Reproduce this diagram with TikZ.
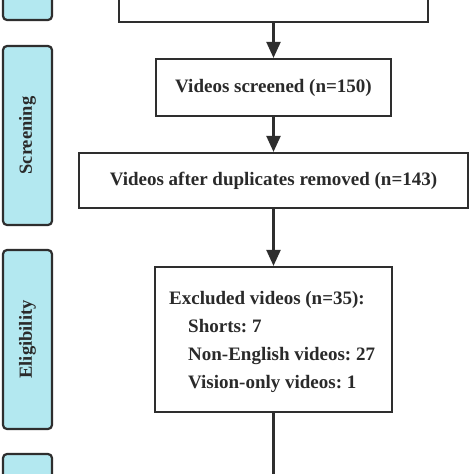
\documentclass[tikz,border=0pt]{standalone}
\usepackage{fontspec}
\setmainfont{Liberation Serif}
\usetikzlibrary{arrows.meta}
\frenchspacing
\definecolor{stagefill}{HTML}{B3E8F0}
\definecolor{linec}{HTML}{2E2E2E}
\definecolor{txtc}{HTML}{2A2A2A}
\tikzset{
  flowbox/.style={draw=linec, line width=2.2pt, fill=white, inner sep=0pt,
    font=\bfseries\fontsize{19}{23}\selectfont, text=txtc},
  stagebox/.style={draw=linec, line width=2.2pt, fill=stagefill, rounded corners=4pt,
    inner sep=0pt, minimum width=49pt},
  stagelabel/.style={rotate=90, font=\bfseries\fontsize{18.5}{22}\selectfont, text=txtc, inner sep=0pt},
  itemtext/.style={anchor=base west, inner sep=0pt, font=\bfseries\fontsize{19}{23}\selectfont, text=txtc},
  flowarrow/.style={draw=linec, line width=2.2pt, -{Triangle[length=16pt,width=14pt]}},
  flowline/.style={draw=linec, line width=2.2pt}
}
\begin{document}
\begin{tikzpicture}[x=1pt,y=-1pt]
\clip (0,0) rectangle (474,474);
\fill[white] (0,0) rectangle (474,474);
% stage boxes
\node[stagebox, minimum height=120pt] (stagetop) at (27.5,-40) {};
\node[stagebox, minimum height=179pt] (screening) at (27.5,135.5) {};
\node[stagelabel] (screeninglbl) at (27.5,135.5) {Screening};
\node[stagebox, minimum height=179pt] (eligibility) at (27.5,339.5) {};
\node[stagelabel] (eligibilitylbl) at (27.5,339.5) {Eligibility};
\node[stagebox, minimum height=120pt] (stagebot) at (27.5,514) {};
% flow boxes
\node[flowbox, minimum width=309pt, minimum height=64pt] (top) at (273.5,-10) {};
\node[flowbox, minimum width=235pt, minimum height=57pt] (screened) at (273.5,87.5) {Videos screened (n=150)};
\node[flowbox, minimum width=389pt, minimum height=55pt] (dup) at (273.5,180.5) {Videos after duplicates removed (n=143)};
\node[flowbox, minimum width=237pt, minimum height=145pt] (excl) at (273.5,339.5) {};
\node[itemtext] (ex1) at (169,304) {Excluded videos (n=35):};
\node[itemtext] (ex2) at (188,332) {Shorts: 7};
\node[itemtext] (ex3) at (188,360) {Non-English videos: 27};
\node[itemtext] (ex4) at (188,388) {Vision-only videos: 1};
\coordinate (belowend) at (273.5,480);
% connectors
\draw[flowarrow] (top.south) -- (screened.north);
\draw[flowarrow] (screened.south) -- (dup.north);
\draw[flowarrow] (dup.south) -- (excl.north);
\draw[flowline] (excl.south) -- (belowend);
\end{tikzpicture}
\end{document}
